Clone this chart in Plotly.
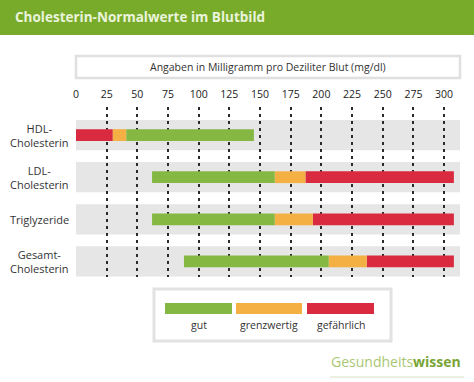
import plotly.graph_objects as go

# ---- data ----
categories = ["HDL-<br>Cholesterin", "LDL-<br>Cholesterin", "Triglyzeride", "Gesamt-<br>Cholesterin"]
# segments (start, end) per category
gut_start = [41, 62, 62, 88]
gut_end = [145, 162, 162, 206]
grenz_start = [30, 162, 162, 206]
grenz_end = [41, 187, 193, 237]
gef_start = [0, 187, 193, 237]
gef_end = [30, 308, 308, 308]
tick_vals = list(range(0, 301, 25))
legend_labels = ["gut", "grenzwertig", "gefährlich"]

GREEN = "#85b843"
ORANGE = "#f4b043"
RED = "#d92a3f"
HEADER = "#79ab2b"
FONT = "Open Sans"

W, H = 474, 382
L, R, T, B = 76, 14, 107, 105
PW, PH = W - L - R, H - T - B


def px(x):
    return (x - L) / PW


def py(y):
    return (H - B - y) / PH


ypos = list(range(len(categories)))

fig = go.Figure()
for starts, ends, col, name in [
    (gef_start, gef_end, RED, legend_labels[2]),
    (grenz_start, grenz_end, ORANGE, legend_labels[1]),
    (gut_start, gut_end, GREEN, legend_labels[0]),
]:
    fig.add_trace(go.Bar(
        y=ypos, x=[e - s for s, e in zip(starts, ends)], base=starts,
        orientation="h", marker=dict(color=col, line=dict(width=0)),
        width=0.28, name=name, showlegend=False, hoverinfo="skip",
    ))

shapes = []
# grey row bands
for i in ypos:
    shapes.append(dict(type="rect", xref="x domain", yref="y", x0=0, x1=1,
                       y0=i - 0.36, y1=i + 0.36, fillcolor="#e6e6e6",
                       line=dict(width=0), layer="below"))
# header band
shapes.append(dict(type="rect", xref="paper", yref="paper", x0=px(0), x1=px(W),
                   y0=py(35), y1=py(0), fillcolor=HEADER, line=dict(width=0)))
# info box
shapes.append(dict(type="rect", xref="paper", yref="paper", x0=px(76), x1=px(460),
                   y0=py(78), y1=py(56), fillcolor="white",
                   line=dict(color="#e0e0e0", width=2.5)))
# legend box
shapes.append(dict(type="rect", xref="paper", yref="paper", x0=px(154), x1=px(391),
                   y0=py(341), y1=py(289), fillcolor="white",
                   line=dict(color="#e2e2e2", width=3)))
sw = [(165, 232, GREEN), (236, 302, ORANGE), (307, 374, RED)]
for x0, x1, c in sw:
    shapes.append(dict(type="rect", xref="paper", yref="paper", x0=px(x0), x1=px(x1),
                       y0=py(314), y1=py(303), fillcolor=c, line=dict(width=0)))
# logo underline
shapes.append(dict(type="line", xref="paper", yref="paper", x0=px(330), x1=px(464),
                   y0=py(377), y1=py(377), line=dict(color="#d5e2c2", width=1)))

annotations = [
    dict(text="<b>Cholesterin-Normalwerte im Blutbild</b>", xref="paper", yref="paper",
         x=px(13), y=py(17), xanchor="left", yanchor="middle", showarrow=False,
         font=dict(family=FONT, size=13.5, color="#eaf4dc")),
    dict(text="Angaben in Milligramm pro Deziliter Blut (mg/dl)", xref="paper", yref="paper",
         x=px(268), y=py(67), xanchor="center", yanchor="middle", showarrow=False,
         font=dict(family=FONT, size=10.5, color="#333333")),
    dict(text="<span style='color:#a9c773'>Gesundheits</span><b><span style='color:#78a535'>wissen</span></b>",
         xref="paper", yref="paper", x=px(463), y=py(361), xanchor="right", yanchor="middle",
         showarrow=False, font=dict(family=FONT, size=14)),
]
for (x0, x1, c), lab in zip(sw, legend_labels):
    annotations.append(dict(text=lab, xref="paper", yref="paper", x=px((x0 + x1) / 2),
                            y=py(325), xanchor="center", yanchor="middle", showarrow=False,
                            font=dict(family=FONT, size=10.5, color="#333333")))
for i, cat in zip(ypos, categories):
    annotations.append(dict(text=cat, xref="paper", yref="y", x=px(71), y=i,
                            xanchor="right", yanchor="middle", align="center", showarrow=False,
                            font=dict(family=FONT, size=11, color="#333333")))

fig.update_layout(
    width=W, height=H, margin=dict(l=L, r=R, t=T, b=B, pad=0),
    paper_bgcolor="white", plot_bgcolor="white",
    barmode="overlay", shapes=shapes, annotations=annotations,
    font=dict(family=FONT),
    xaxis=dict(range=[0, 313], side="top", tickvals=tick_vals,
               showgrid=True, gridcolor="#2a2a2a", gridwidth=1.6, griddash="3px,4px",
               zeroline=False, showline=False, ticks="outside", ticklen=4,
               tickcolor="rgba(0,0,0,0)",
               tickfont=dict(family=FONT, size=10.5, color="#222222")),
    yaxis=dict(range=[3.37, -0.667], showticklabels=False, showgrid=False,
               zeroline=False, showline=False),
)

fig.write_html("out.html", config={"displayModeBar": False},
               post_script="document.body.style.margin='0';document.body.style.overflow='hidden';")
